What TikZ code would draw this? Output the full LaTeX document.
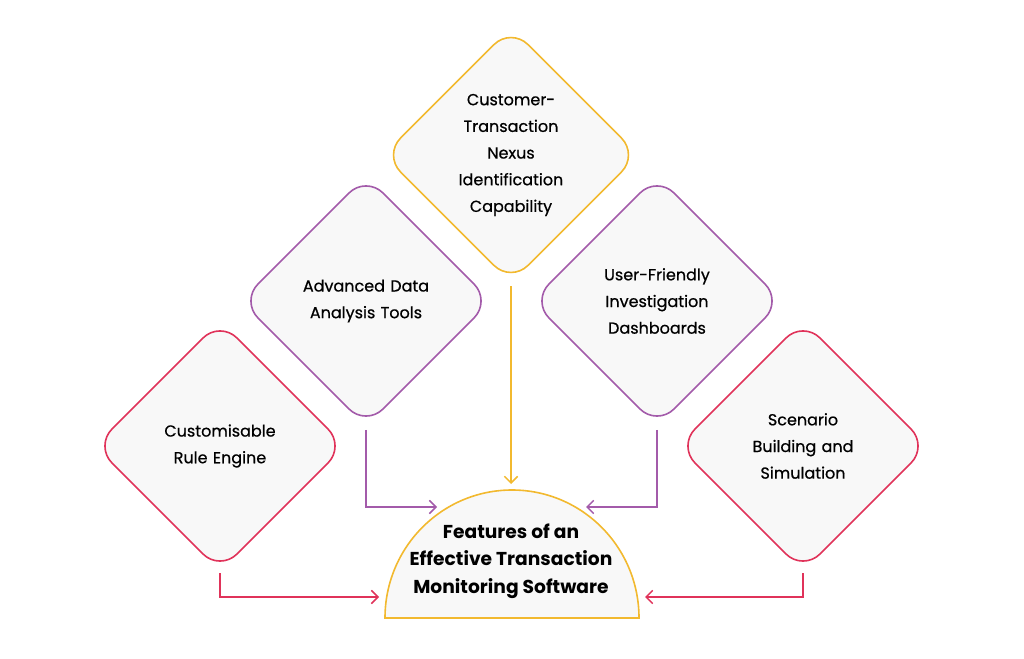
\documentclass[tikz,border=0pt]{standalone}
\usepackage{fontspec}
\setmainfont{Poppins}
\newfontfamily\medfont{Poppins}[FakeBold=0.6]
\usetikzlibrary{shapes.geometric,arrows.meta}

\definecolor{featyellow}{HTML}{F2B92F}
\definecolor{featpurple}{HTML}{A35BAA}
\definecolor{featred}{HTML}{E0335A}
\definecolor{featfill}{HTML}{F8F8F8}

\tikzset{
  featbox/.style={diamond,draw=#1,fill=featfill,line width=1.2pt,
    rounded corners=18pt,minimum size=188pt,inner sep=0pt,aspect=1,
    align=center,text width=100pt,font=\medfont\fontsize{12}{20}\selectfont},
  feedline/.style={draw=#1,line width=1.1pt,-{Straight Barb[length=5pt,width=10pt]}}
}

\begin{document}
\begin{tikzpicture}[x=0.75pt,y=-0.75pt]
\useasboundingbox (0,0) rectangle (1024,659);

% Feature diamonds
\node[featbox=featyellow] (nexus) at (511,155) {Customer-\\Transaction\\Nexus\\Identification\\Capability};
\node[featbox=featpurple] (analysis) at (366,301) {Advanced Data\\Analysis Tools};
\node[featbox=featpurple] (dash) at (657,301) {User-Friendly\\Investigation\\Dashboards};
\node[featbox=featred] (rules) at (220,446) {Customisable\\Rule Engine};
\node[featbox=featred] (scenario) at (803,446) {Scenario\\Building and\\Simulation};

% Central half dome
\draw[featyellow,fill=featfill,line width=1.2pt] (385,618) arc[start angle=180,end angle=360,x radius=127,y radius=128] -- cycle;
\node[font=\bfseries\fontsize{14}{20.5}\selectfont,align=center] (core) at (511,561)
  {Features of an\\Effective Transaction\\Monitoring Software};

% Arrow end points on the dome
\coordinate (top) at (511,484);
\coordinate (ul) at (437,507);
\coordinate (ur) at (586,507);
\coordinate (ll) at (379,597);
\coordinate (lr) at (645,597);

% Connectors
\draw[feedline=featyellow] ([yshift=-2pt]nexus.south) -- (top);
\draw[feedline=featpurple] ([yshift=-2pt]analysis.south) |- (ul);
\draw[feedline=featpurple] ([yshift=-2pt]dash.south) |- (ur);
\draw[feedline=featred] ([yshift=-1pt]rules.south) |- (ll);
\draw[feedline=featred] ([yshift=-1pt]scenario.south) |- (lr);
\end{tikzpicture}
\end{document}
